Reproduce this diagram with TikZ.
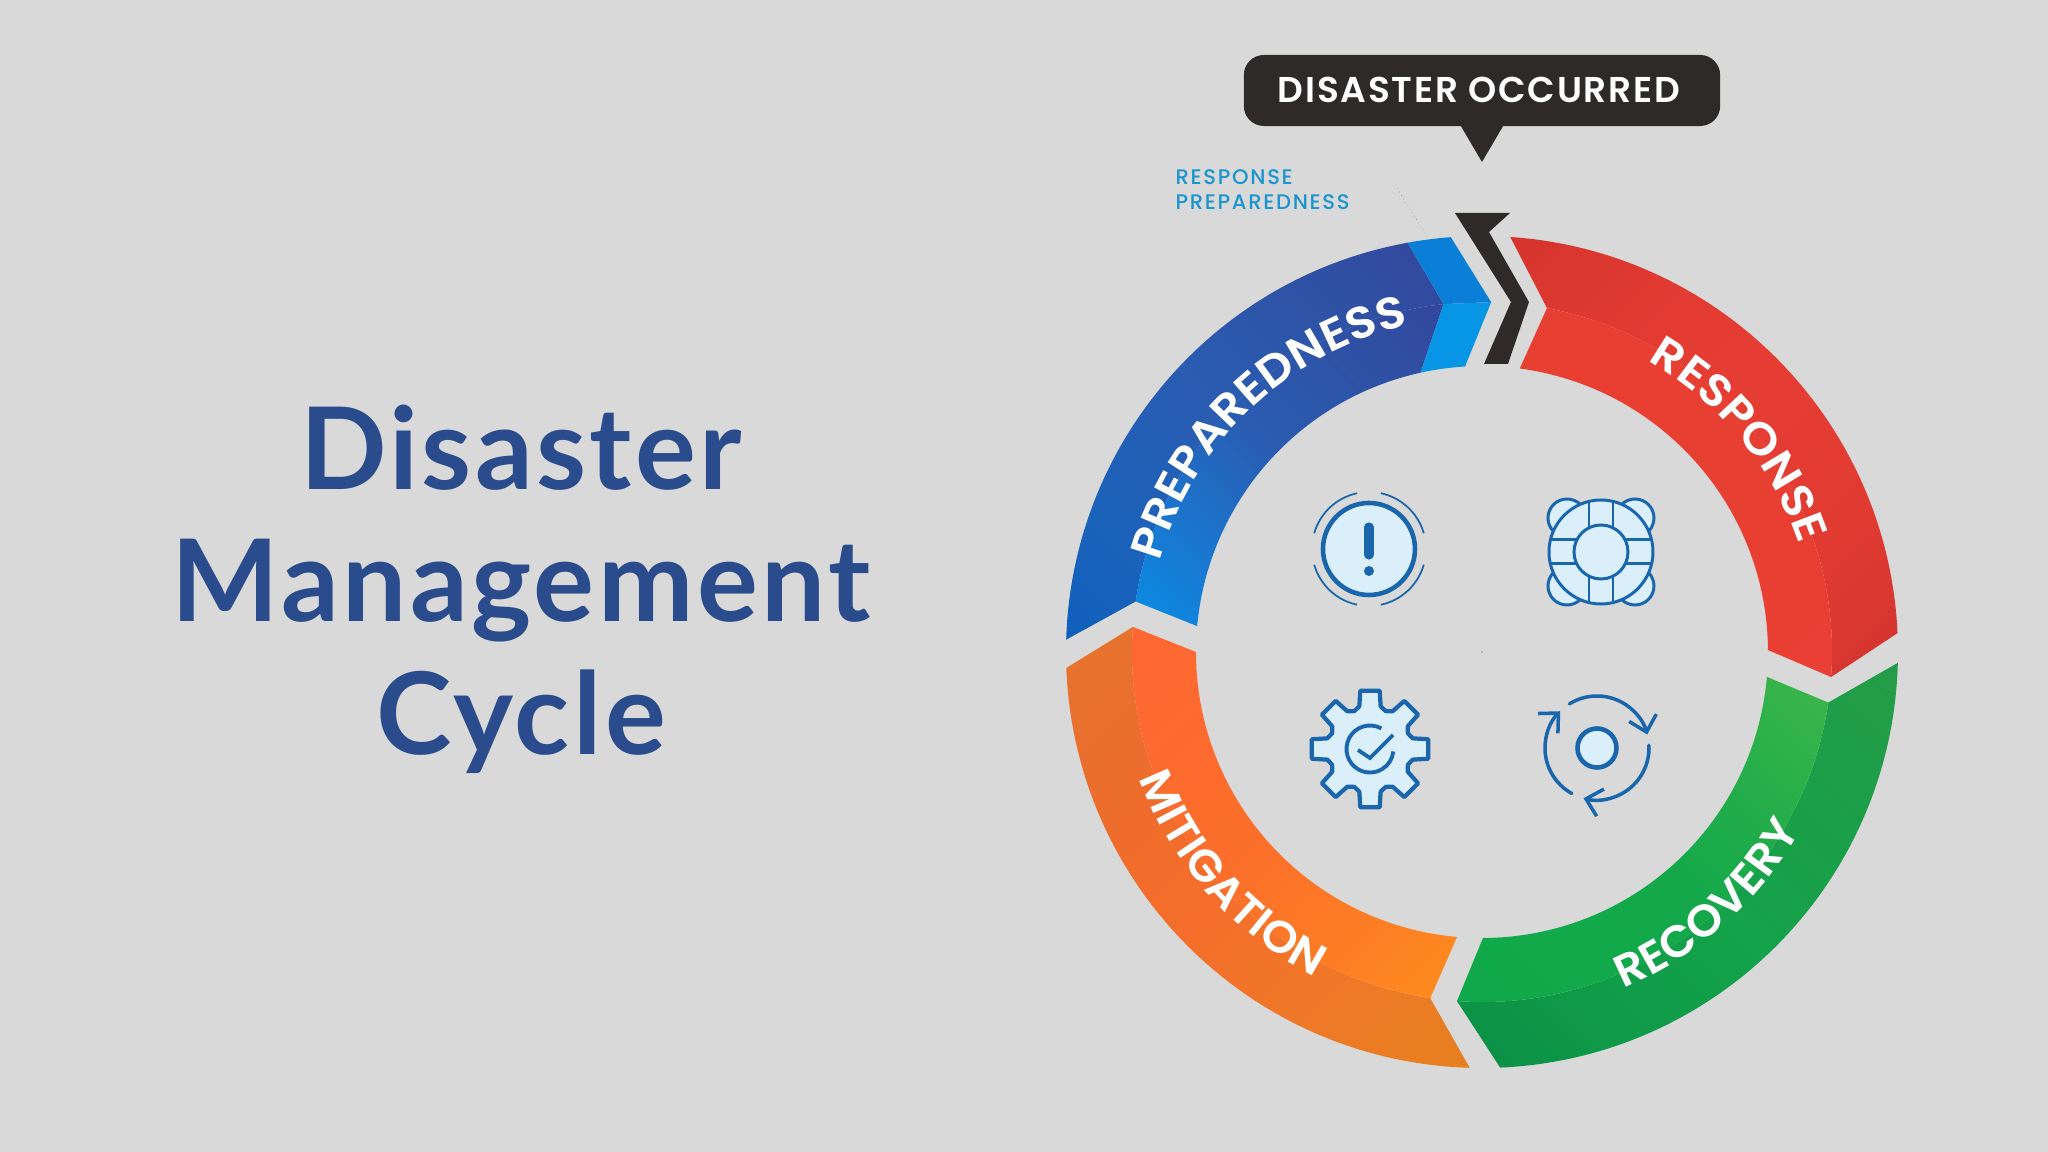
\documentclass[tikz,border=0pt]{standalone}
\usepackage{fontspec}
\setmainfont{Poppins}
\newfontfamily\titlefam{Lato}[LetterSpace=3]
\newfontfamily\bandfam{Poppins SemiBold}[LetterSpace=10,FakeStretch=1.08]
\newfontfamily\bandlowfam{Poppins SemiBold}[LetterSpace=8,FakeStretch=1.03]
\newfontfamily\calloutfam{Poppins SemiBold}[LetterSpace=5]
\newfontfamily\smallfam{Poppins Medium}[LetterSpace=8]
\usetikzlibrary{positioning, calc}
\usetikzlibrary{arrows.meta}
\usetikzlibrary{decorations.text}
\definecolor{bgray}{HTML}{D9D9D9}
\definecolor{titleblue}{HTML}{2B4C8C}
\definecolor{darkbox}{HTML}{2F2A2A}
\definecolor{labelblue}{HTML}{1A95D0}
\definecolor{iconblue}{HTML}{1A66AD}
\definecolor{iconfill}{HTML}{DBEFFB}
\definecolor{prependtop}{HTML}{0B7FD7}
\definecolor{prependlow}{HTML}{0795E6}
\newcommand{\bandstops}[6]{
    \definecolor{#1a}{HTML}{#2}\definecolor{#1b}{HTML}{#3}\definecolor{#1c}{HTML}{#4}
    \definecolor{#1d}{HTML}{#5}\definecolor{#1e}{HTML}{#6}
    \pgfdeclareverticalshading{#1}{100bp}{color(0bp)=(#1a); color(15bp)=(#1a); color(30bp)=(#1b);
        color(50bp)=(#1c); color(65bp)=(#1d); color(85bp)=(#1e); color(100bp)=(#1e)}
}
\bandstops{prepouter}{0F60BC}{1C62BA}{2A5CB1}{2D54A8}{33489C}
\bandstops{prepinner}{0A8CE4}{1A77D0}{2A5CB1}{2D54A8}{33489C}
\bandstops{respouter}{D33430}{E03A31}{E63D33}{E33B32}{D5352E}
\bandstops{respinner}{EA3F34}{E93F33}{E83F33}{E93F33}{E83F33}
\bandstops{recouter}{0B8F46}{0F9A48}{14A24A}{1A9F49}{259C48}
\bandstops{recinner}{0FA84A}{11A94A}{14A84A}{23AD4A}{3CB64A}
\bandstops{mitouter}{E67F1F}{EE7A27}{F56E2B}{EE6C2C}{E4742E}
\bandstops{mitinner}{FF8C1E}{FD7E24}{FC6F2A}{FD6B2E}{FF6633}
\newcommand{\bandfont}{\bandfam\fontsize{12.7}{14}\selectfont\color{white}}
\newcommand{\bandlowfont}{\bandlowfam\fontsize{12.7}{14}\selectfont\color{white}}
\tikzstyle{titletext}=[text=titleblue,anchor=base,inner sep=0pt,font=\titlefam\bfseries\fontsize{32.4}{37.7}\selectfont]
\tikzstyle{smalltext}=[text=labelblue,anchor=base west,inner sep=0pt,font=\smallfam\fontsize{6}{7.1}\selectfont]
\tikzstyle{iconline}=[draw=iconblue,line width=1.3pt,fill=iconfill]
\tikzstyle{iconthin}=[draw=iconblue,line width=0.5pt]
\tikzstyle{iconarrow}=[draw=iconblue,line width=1pt,line cap=round,-{Straight Barb[length=4.2pt,width=8pt]}]
\tikzstyle{bandtext}=[decorate]
\begin{document}
\begin{tikzpicture}[x=0.01cm,y=0.01cm]
    \fill[bgray] (-1482,-500) rectangle (566,652);
    \useasboundingbox (-1482,-500) rectangle (566,652);

    % title
    \node[titletext] (title1) at (-961,162) {Disaster};
    \node[titletext] (title2) at (-961,30) {Management};
    \node[titletext] (title3) at (-961,-103) {Cycle};

    % preparedness
    \shade[shading=prepouter, shading angle=-45]
        (178.3:416) arc[start angle=178.3,end angle=100.3,radius=416] -- (96.3:350)
        arc[start angle=96.3,end angle=171.7,radius=350] -- cycle;
    \shade[shading=prepinner, shading angle=-45]
        (171.7:350) arc[start angle=171.7,end angle=96.3,radius=350] -- (102.4:286)
        arc[start angle=102.4,end angle=174.8,radius=286] -- cycle;
    \fill[prependtop] (100.3:416) arc[start angle=100.3,end angle=94.3,radius=416] -- (88.5:350) -- (96.3:350) -- cycle;
    \fill[prependlow] (96.3:350) -- (88.5:350) -- (93.4:286)
        arc[start angle=93.4,end angle=102.4,radius=286] -- cycle;

    % response
    \shade[shading=respouter, shading angle=45]
        (86.1:416) arc[start angle=86.1,end angle=2.6,radius=416] -- (-4.1:350)
        arc[start angle=-4.1,end angle=79.3,radius=350] -- cycle;
    \shade[shading=respinner, shading angle=45]
        (79.3:350) arc[start angle=79.3,end angle=-4.1,radius=350] -- (0.4:286)
        arc[start angle=0.4,end angle=82.4,radius=286] -- cycle;

    % recovery
    \shade[shading=recouter, shading angle=-45]
        (-1.5:416) arc[start angle=-1.5,end angle=-87.5,radius=416] -- (-94.1:350)
        arc[start angle=-94.1,end angle=-8.3,radius=350] -- cycle;
    \shade[shading=recinner, shading angle=-45]
        (-8.3:350) arc[start angle=-8.3,end angle=-94.1,radius=350] -- (-89.8:286)
        arc[start angle=-89.8,end angle=-5,radius=286] -- cycle;

    % mitigation
    \shade[shading=mitouter, shading angle=45]
        (182.2:416) arc[start angle=182.2,end angle=268.3,radius=416] -- (261.5:350)
        arc[start angle=261.5,end angle=175.9,radius=350] -- cycle;
    \shade[shading=mitinner, shading angle=45]
        (175.9:350) arc[start angle=175.9,end angle=261.5,radius=350] -- (265:286)
        arc[start angle=265,end angle=180,radius=286] -- cycle;

    % band labels
    \path[bandtext,decoration={text along path,text align=center,text={|\bandfont|PREPAREDNESS}}]
        (178.5:335) arc[start angle=178.5,end angle=88.5,radius=335];
    \path[bandtext,decoration={text along path,text align=center,text={|\bandfont|RESPONSE}}]
        (85:335) arc[start angle=85,end angle=-6,radius=335];
    \path[bandtext,decoration={text along path,text align=center,text={|\bandlowfont|RECOVERY}}]
        (-93:365) arc[start angle=-93,end angle=-3.6,radius=365];
    \path[bandtext,decoration={text along path,text align=center,text={|\bandlowfont|MITIGATION}}]
        (176:365) arc[start angle=176,end angle=267,radius=365];

    % chevron and callout
    \fill[darkbox] (-27,439) -- (28,439) -- (7,420) -- (47,350) -- (26,288) -- (2,288) -- (29,350) -- cycle;
    \node[fill=darkbox,rounded corners=0.2cm,minimum width=4.76cm,minimum height=0.71cm,
        text=white,inner sep=0pt,font=\calloutfam\fontsize{10.2}{12}\selectfont] (callout) at (0,561.5)
        {\raisebox{0.6pt}{DISASTER OCCURRED\kern1.7pt}};
    \coordinate (tailtip) at (0,490);
    \fill[darkbox] ($(callout.south)+(-21,0.5)$) -- (tailtip) -- ($(callout.south)+(21,0.5)$) -- cycle;

    \node[smalltext] (smallresp) at (-307,467) {RESPONSE};
    \node[smalltext] (smallprep) at (-307,442) {PREPAREDNESS};
    \coordinate (leadstart) at (-87,467);
    \coordinate (leadend) at (-54,414);
    \draw[gray,line width=0.15pt,densely dotted] (leadstart) -- (leadend);
    \fill[gray!70] (0,0) circle (1);

    % alert icon
    \coordinate (alert) at (-113,103);
    \begin{scope}[shift={(alert)}]
        \draw[iconline] (0,0) circle (46);
        \draw[draw=iconblue,line width=2.6pt,line cap=round] (0,22) -- (0,-6);
        \fill[iconblue] (0,-22) circle (5);
        \draw[iconthin] (164:57) arc[start angle=164,end angle=102,radius=57];
        \draw[iconthin] (78:57) arc[start angle=78,end angle=16,radius=57];
        \draw[iconthin] (196:57) arc[start angle=196,end angle=258,radius=57];
        \draw[iconthin] (282:57) arc[start angle=282,end angle=344,radius=57];
    \end{scope}

    % lifebuoy icon
    \coordinate (buoy) at (119,100);
    \begin{scope}[shift={(buoy)}]
        \foreach \bx/\by in {-34/34, 34/34, -34/-34, 34/-34}
            \draw[iconline,line width=0.85pt] (\bx,\by) circle (19);
        \draw[iconline,line width=0.85pt] (0,0) circle (52);
        \draw[iconline,line width=0.85pt] (0,0) circle (27);
        \foreach \ang in {0,90,180,270}
            \draw[iconline,line width=0.85pt,rotate=\ang] (12,24) -- (12,50.5) (-12,24) -- (-12,50.5);
    \end{scope}

    % gear icon
    \coordinate (gear) at (-112,-97);
    \begin{scope}[shift={(gear)}]
        \draw[iconline,line width=1.2pt,line join=round] (-14:44)
            \foreach \a in {0,45,...,315}{ -- (\a-14:44) -- (\a-9.5:59) -- (\a+9.5:59) -- (\a+14:44) -- (\a+22.5:41)} -- cycle;
        \draw[draw=iconblue,line width=1.1pt] (61:23.5) arc[start angle=61,end angle=354,radius=23.5];
        \draw[draw=iconblue,line width=1.1pt] (-12,-1) -- (0,-9) -- (23,14);
    \end{scope}

    % recovery icon
    \coordinate (cycle) at (115,-96);
    \begin{scope}[shift={(cycle)}]
        \draw[iconline] (0,0) circle (19.5);
        \draw[iconarrow] (122:52) arc[start angle=122,end angle=15,radius=52];
        \draw[iconarrow] (3:52) arc[start angle=3,end angle=-105,radius=52];
        \draw[iconarrow] (241:52) arc[start angle=241,end angle=135,radius=52];
    \end{scope}
\end{tikzpicture}
\end{document}
